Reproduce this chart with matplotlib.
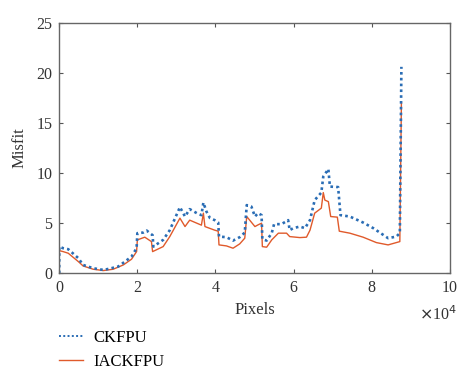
import matplotlib
matplotlib.use("Agg")
import matplotlib.pyplot as plt
import numpy as np

# x in units of 1e4 pixels
ck_x = [0.0, 0.0, 0.10, 0.23, 0.49, 0.61, 0.87, 1.13, 1.30, 1.51, 1.68, 1.85, 1.98, 2.0, 2.15, 2.24, 2.32, 2.39, 2.41,
        2.66, 2.83, 3.09, 3.22, 3.34, 3.52, 3.64, 3.69, 3.77, 3.86, 3.98, 4.07, 4.09, 4.28, 4.45, 4.62, 4.75, 4.80,
        4.92, 5.01, 5.09, 5.18, 5.20, 5.31, 5.44, 5.50, 5.69, 5.86, 5.90, 5.99, 6.16, 6.29, 6.42, 6.54, 6.71, 6.76,
        6.89, 6.93, 7.14, 7.20, 7.44, 7.78, 8.04, 8.42, 8.63, 8.72, 8.76]
ck_y = [0.0, 2.66, 2.5, 2.4, 1.5, 0.83, 0.5, 0.33, 0.47, 0.67, 1.16, 1.66, 2.5, 4.0, 4.06, 4.26, 4.0, 3.8, 2.66,
        3.33, 4.3, 6.6, 5.66, 6.4, 6.0, 5.8, 7.05, 6.15, 5.5, 5.3, 5.06, 3.66, 3.6, 3.26, 3.6, 4.06, 6.8,
        6.65, 5.66, 6.0, 5.8, 3.4, 3.26, 4.0, 4.9, 4.9, 5.3, 4.3, 4.5, 4.66, 4.5, 5.3, 7.3, 8.05, 9.65,
        10.4, 8.65, 8.6, 5.8, 5.66, 5.06, 4.5, 3.5, 3.66, 4.0, 20.6]

ia_x = [0.0, 0.0, 0.10, 0.23, 0.49, 0.61, 0.87, 1.13, 1.38, 1.64, 1.85, 1.98, 2.0, 2.19, 2.36, 2.39, 2.66, 2.83,
        3.09, 3.22, 3.34, 3.64, 3.69, 3.73, 3.98, 4.07, 4.09, 4.28, 4.45, 4.62, 4.75, 4.80, 5.01, 5.09, 5.18, 5.20,
        5.31, 5.44, 5.61, 5.82, 5.90, 6.16, 6.33, 6.42, 6.54, 6.71, 6.76, 6.80, 6.89, 6.95, 7.12, 7.17, 7.44, 7.78,
        8.12, 8.42, 8.72, 8.76]
ia_y = [0.0, 2.26, 2.16, 2.0, 1.16, 0.73, 0.4, 0.27, 0.4, 0.83, 1.4, 2.16, 3.33, 3.6, 3.16, 2.16, 2.66, 3.66,
        5.5, 4.66, 5.3, 4.8, 6.0, 4.66, 4.3, 4.2, 2.83, 2.73, 2.5, 2.93, 3.5, 5.66, 4.66, 4.83, 5.0, 2.66,
        2.6, 3.33, 4.0, 4.0, 3.66, 3.56, 3.6, 4.3, 6.0, 6.5, 8.05, 7.3, 7.15, 5.66, 5.6, 4.2, 4.0, 3.6,
        3.06, 2.83, 3.16, 17.0]

x_ticks = [0, 2, 4, 6, 8, 10]
y_ticks = [0, 5, 10, 15, 20, 25]

plt.rcParams['font.family'] = ['Liberation Serif', 'DejaVu Serif']

fig = plt.figure(figsize=(4.74, 3.79), dpi=100)
ax = fig.add_axes([0.125, 0.279, 0.824, 0.661])

blue = '#2a6db5'
orange = '#e05a2b'
l2, = ax.plot(ia_x, ia_y, color=orange, lw=1.0, label='IACKFPU')
l1, = ax.plot(ck_x, ck_y, color=blue, lw=1.9, linestyle=(0, (1, 1.2)), label='CKFPU')

ax.set_xlim(0, 10)
ax.set_ylim(0, 25)
ax.set_xticks(x_ticks)
ax.set_yticks(y_ticks)
ax.tick_params(direction='in', top=True, right=True, labelsize=11.5, length=3,
               color='#555555', labelcolor='#333333', pad=5)
for s in ax.spines.values():
    s.set_color('#666666')
    s.set_linewidth(1.0)
ax.set_xlabel('Pixels', fontsize=12, color='#333333', labelpad=4)
ax.set_ylabel('Misfit', fontsize=12, color='#333333', labelpad=6)
fig.text(0.964, 0.171, r'$\times$10$^4$', ha='right', va='center', fontsize=11.5, color='#333333')

# legend handles: thin copies for the legend
h1 = plt.Line2D([], [], color=blue, lw=1.4, linestyle=(0, (1, 1.2)))
h2 = plt.Line2D([], [], color=orange, lw=1.0)
fig.legend(handles=[h1, h2], labels=['CKFPU', 'IACKFPU'], loc='upper left',
           bbox_to_anchor=(0.110, 0.147), frameon=False, fontsize=12, handlelength=1.45,
           labelspacing=0.48, borderaxespad=0, handletextpad=0.6)

fig.savefig('out.png', dpi=100)
